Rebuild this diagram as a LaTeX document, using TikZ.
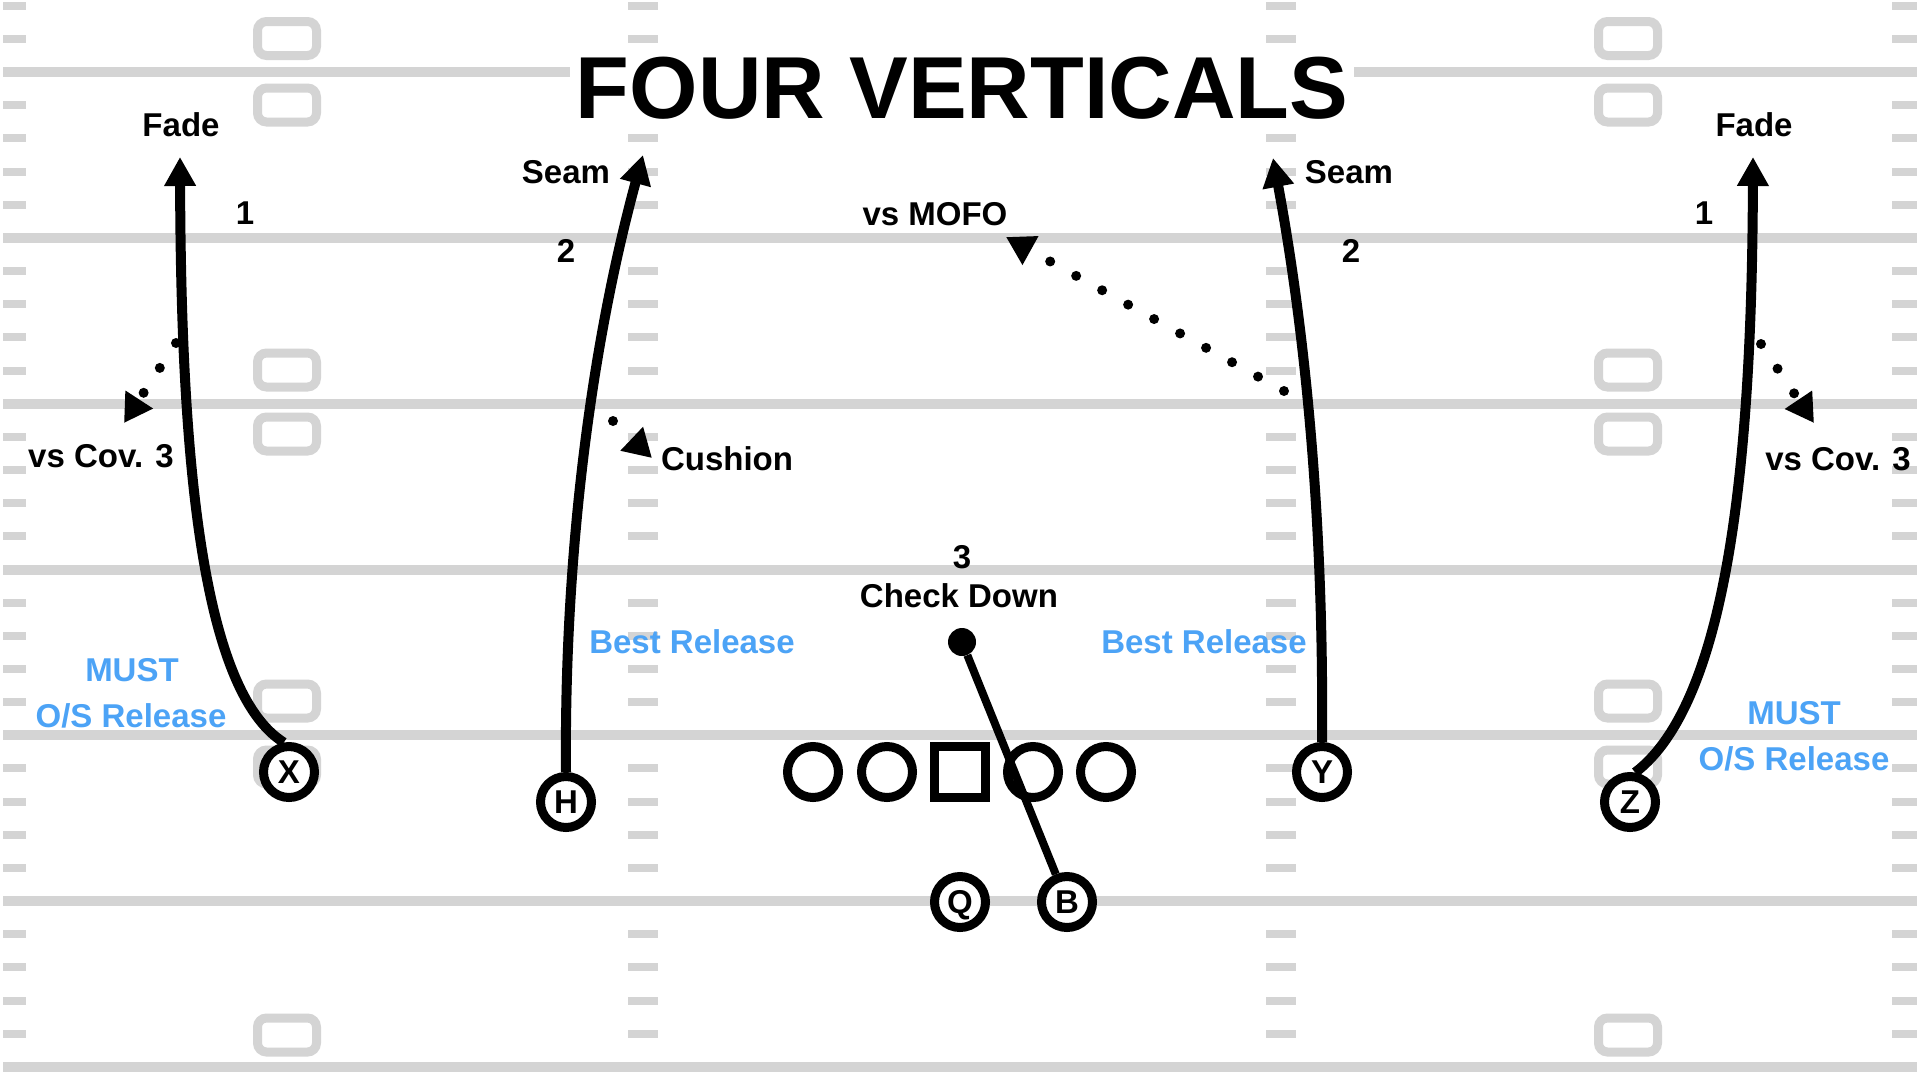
\documentclass[tikz,border=0pt]{standalone}
\usepackage{fontspec}
\setmainfont{Liberation Sans}
\usetikzlibrary{arrows.meta}
\definecolor{fieldgray}{RGB}{212,212,212}
\definecolor{noteblue}{RGB}{76,163,246}
\pgfdeclarelayer{field}
\pgfdeclarelayer{routes}
\pgfsetlayers{field,routes,main}
\begin{document}
\begin{tikzpicture}[x=1pt,y=-1pt,
  yardline/.style={fieldgray,line width=10pt},
  hashmark/.style={fieldgray,line width=8pt},
  numbox/.style={fieldgray,line width=9pt,rounded corners=9pt},
  player/.style={circle,draw=black,fill=white,line width=9pt,minimum size=51pt,inner sep=0pt,
    font=\bfseries\fontsize{33}{33}\selectfont,text height=23.6pt,text depth=0pt},
  lineman/.style={circle,draw=black,fill=white,line width=9pt,minimum size=51pt,inner sep=0pt},
  snapper/.style={rectangle,draw=black,fill=white,line width=9pt,minimum size=51pt,inner sep=0pt},
  route/.style={line width=10pt,-{Triangle[length=29pt,width=30pt]}},
  option/.style={line width=10pt,line cap=round,dash pattern=on 0pt off 29.7pt,
    -{Triangle[length=28pt,width=31pt]}},
  lbl/.style={font=\bfseries\fontsize{33}{33}\selectfont,anchor=base,inner sep=0pt},
  note/.style={lbl,text=noteblue}
]
\useasboundingbox (0,0) rectangle (1920,1080);
\begin{pgfonlayer}{field}
\fill[white] (0,0) rectangle (1920,1080);
\foreach \i in {0,...,6} {\draw[yardline] (3,{72+165.83*\i}) -- (1917,{72+165.83*\i});}
\foreach \k in {-2,...,29} {
  \pgfmathtruncatemacro\hm{mod(\k+10,5)}
  \ifnum\hm=0\relax\else
    \pgfmathsetmacro\hy{72+33.166*\k}
    \draw[hashmark] (3,\hy) -- (26,\hy) (628,\hy) -- (658,\hy) (1266,\hy) -- (1296,\hy) (1892,\hy) -- (1917,\hy);
  \fi
}
\foreach \bx in {287,1628} {
  \foreach \by in {38.5,105,370,434,701,767,1035} {
    \draw[numbox] ({\bx-29.5},{\by-17}) rectangle ({\bx+29.5},{\by+17});
  }
}
\end{pgfonlayer}

% title
\node[fill=white,font=\bfseries\fontsize{88}{88}\selectfont,anchor=base,inner xsep=6pt,inner ysep=0pt,
  text height=73pt,text depth=7pt] (title) at (962,118) {FOUR VERTICALS};

% players
\node[player] (X) at (289,772) {X};
\node[player] (H) at (566,802) {H};
\node[lineman] (lt) at (813,772) {};
\node[lineman] (lg) at (887,772) {};
\node[snapper] (c) at (960,772) {};
\node[lineman] (rg) at (1033,772) {};
\node[lineman] (rt) at (1106,772) {};
\node[player] (Y) at (1322,772) {Y};
\node[player] (Z) at (1630,802) {Z};
\node[player] (Q) at (960,902) {Q};
\node[player] (B) at (1067,902) {B};
\node[circle,fill=black,minimum size=28pt,inner sep=0pt] (cd) at (962,642) {};
\draw[line width=8pt] (cd) -- (B);

% route ends and option starts
\coordinate (xtip) at (180,157);
\coordinate (htip) at (643,155);
\coordinate (ytip) at (1273,158);
\coordinate (ztip) at (1753,157);
\coordinate (xopt) at (176,343);
\coordinate (xopttip) at (124,423);
\coordinate (zopt) at (1761,344);
\coordinate (zopttip) at (1814,423);
\coordinate (hopt) at (613,421);
\coordinate (hopttip) at (652,458);
\coordinate (yopt) at (1284,391);
\coordinate (yopttip) at (1006,237);

\begin{pgfonlayer}{routes}
\draw[route] (X.100) .. controls (200,690) and (181,450) .. (xtip);
\draw[route] (H.north) .. controls (564,560) and (590,350) .. (htip);
\draw[route] (Y.north) .. controls (1324,520) and (1305,330) .. (ytip);
\draw[route] (Z.80) .. controls (1730,700) and (1752,450) .. (ztip);
\draw[option] (xopt) -- (xopttip);
\draw[option] (zopt) -- (zopttip);
\draw[option] (hopt) -- (hopttip);
\draw[option] (yopt) -- (yopttip);
\end{pgfonlayer}

% labels
\node[lbl] (fadeL) at (181,136) {Fade};
\node[lbl] (oneL) at (245,224) {1};
\node[lbl] (fadeR) at (1754,136) {Fade};
\node[lbl] (oneR) at (1704,224) {1};
\node[lbl] (seamL) at (566,183) {Seam};
\node[lbl] (twoL) at (566,262) {2};
\node[lbl] (seamR) at (1349,183) {Seam};
\node[lbl] (twoR) at (1351,262) {2};
\node[lbl] (mofo) at (935,225) {vs MOFO};
\node[lbl] (cov3L) at (101,467) {vs Cov. 3};
\node[lbl] (cov3R) at (1838,470) {vs Cov. 3};
\node[lbl] (cushion) at (727,470) {Cushion};
\node[lbl] (three) at (962,568) {3};
\node[lbl] (checkdown) at (959,607) {Check Down};
\node[note] (mustL) at (132,681) {MUST};
\node[note] (osL) at (131,727) {O/S Release};
\node[note] (mustR) at (1794,724) {MUST};
\node[note] (osR) at (1794,770) {O/S Release};
\node[note] (bestL) at (692,653) {Best Release};
\node[note] (bestR) at (1204,653) {Best Release};
\end{tikzpicture}
\end{document}
